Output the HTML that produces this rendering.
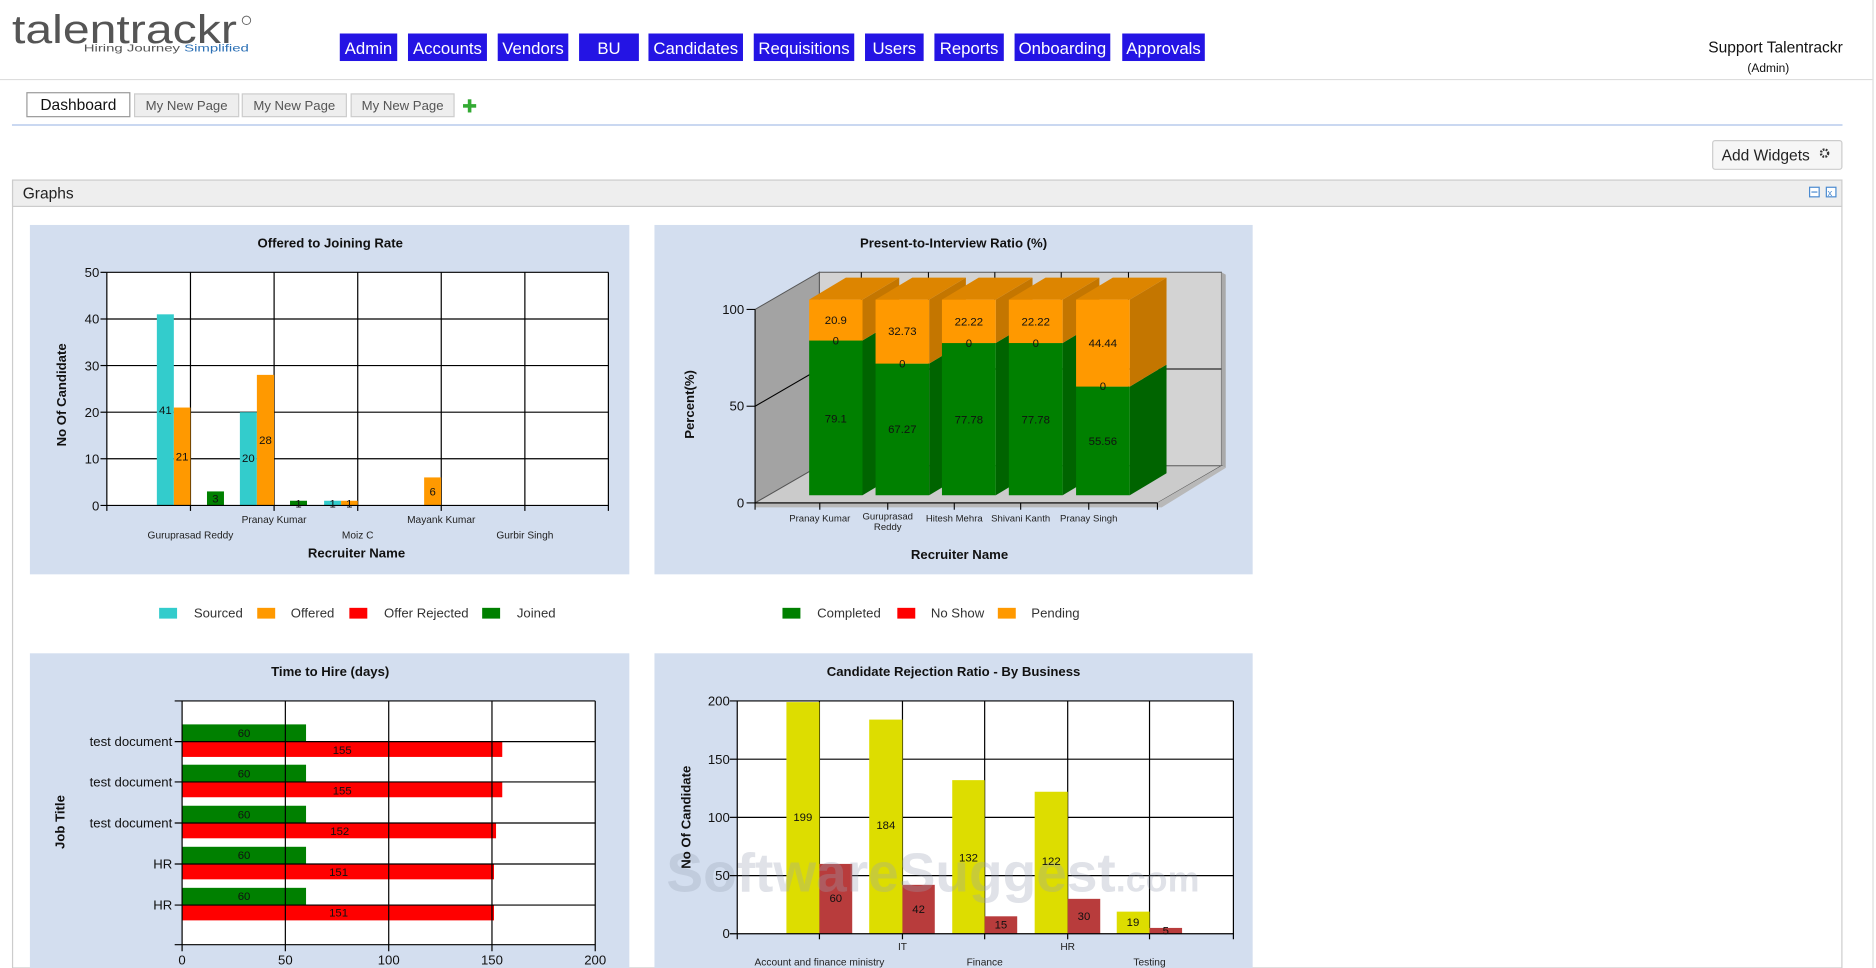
<!DOCTYPE html>
<html><head><meta charset="utf-8"><style>
html,body{margin:0;padding:0;background:#fff;overflow:hidden;width:1876px;height:968px}
svg{display:block}
text{font-family:"Liberation Sans",Arial,sans-serif}
</style></head><body>
<svg width="1876" height="968" viewBox="0 0 1568 809" preserveAspectRatio="none" xmlns="http://www.w3.org/2000/svg">
<rect width="1568" height="809" fill="#fff"/>
<!-- header -->
<text x="10" y="36" font-size="33" fill="#555" textLength="188" lengthAdjust="spacingAndGlyphs">talentrackr</text>
<circle cx="206" cy="17" r="3.5" fill="none" stroke="#666" stroke-width="0.8"/>
<text x="70" y="43" font-size="8.5" fill="#555" textLength="138" lengthAdjust="spacingAndGlyphs">Hiring Journey <tspan fill="#2a6fb5">Simplified</tspan></text>
<g font-size="14" fill="#fff" text-anchor="middle">
<rect x="284" y="28" width="48" height="23" fill="#2414e4"/><text x="308" y="45">Admin</text>
<rect x="341" y="28" width="66" height="23" fill="#2414e4"/><text x="374" y="45">Accounts</text>
<rect x="416" y="28" width="59" height="23" fill="#2414e4"/><text x="445.5" y="45">Vendors</text>
<rect x="484" y="28" width="50" height="23" fill="#2414e4"/><text x="509" y="45">BU</text>
<rect x="542" y="28" width="79" height="23" fill="#2414e4"/><text x="581.5" y="45">Candidates</text>
<rect x="630" y="28" width="84" height="23" fill="#2414e4"/><text x="672" y="45">Requisitions</text>
<rect x="723" y="28" width="49" height="23" fill="#2414e4"/><text x="747.5" y="45">Users</text>
<rect x="781" y="28" width="58" height="23" fill="#2414e4"/><text x="810" y="45">Reports</text>
<rect x="848" y="28" width="80" height="23" fill="#2414e4"/><text x="888" y="45">Onboarding</text>
<rect x="938" y="28" width="69" height="23" fill="#2414e4"/><text x="972.5" y="45">Approvals</text>
</g>
<text x="1484" y="44" font-size="13" fill="#111" text-anchor="middle">Support Talentrackr</text>
<text x="1478" y="60" font-size="10" fill="#111" text-anchor="middle">(Admin)</text>
<line x1="0" y1="66.5" x2="1565" y2="66.5" stroke="#ddd"/>
<line x1="1565.5" y1="0" x2="1565.5" y2="809" stroke="#ddd"/>
<!-- tabs -->
<rect x="22.5" y="77.5" width="86" height="20" fill="#fff" stroke="#999"/>
<text x="65.5" y="92" font-size="13" fill="#111" text-anchor="middle">Dashboard</text>
<g font-size="11" fill="#555" text-anchor="middle">
<rect x="112.5" y="78.5" width="87" height="19" fill="#eee" stroke="#ccc"/><text x="156" y="92">My New Page</text>
<rect x="202.5" y="78.5" width="87" height="19" fill="#eee" stroke="#ccc"/><text x="246" y="92">My New Page</text>
<rect x="293.5" y="78.5" width="86" height="19" fill="#eee" stroke="#ccc"/><text x="336.5" y="92">My New Page</text>
</g>
<rect x="391" y="83" width="3" height="11" fill="#3a3"/><rect x="387" y="87" width="11" height="3" fill="#3a3"/>
<line x1="10" y1="104.5" x2="1540" y2="104.5" stroke="#c2d3ef" stroke-width="1.5"/>
<rect x="1431.5" y="117.5" width="108" height="24" rx="2" fill="#f6f6f6" stroke="#ccc"/>
<text x="1439" y="134" font-size="13" fill="#222">Add Widgets</text>
<circle cx="1525" cy="128" r="3" fill="none" stroke="#333" stroke-width="2" stroke-dasharray="1.5 1"/>
<!-- graphs panel -->
<rect x="10.5" y="150.5" width="1529" height="658.5" fill="#fff" stroke="#ccc"/>
<rect x="10.5" y="150.5" width="1529" height="22" fill="#eee" stroke="#ccc"/>
<text x="19" y="166" font-size="13" fill="#222">Graphs</text>
<rect x="1512.5" y="156.5" width="8" height="8" fill="#fff" stroke="#4a8ad0"/><line x1="1514" y1="160.5" x2="1519" y2="160.5" stroke="#4a8ad0"/>
<rect x="1526.5" y="156.5" width="8" height="8" fill="#fff" stroke="#4a8ad0"/><text x="1527.5" y="164" font-size="8" fill="#4a8ad0">x</text>

<!-- CHART 1 -->
<rect x="25" y="188" width="501" height="292" fill="#d3deef"/>
<text x="276" y="207" font-size="11" font-weight="bold" text-anchor="middle" fill="#111">Offered to Joining Rate</text>
<rect x="89.3" y="227.6" width="419.2" height="194.8" fill="#fff"/>
<g stroke="#000" stroke-width="1">
<line x1="89.3" y1="227.6" x2="508.5" y2="227.6"/><line x1="89.3" y1="266.6" x2="508.5" y2="266.6"/><line x1="89.3" y1="305.5" x2="508.5" y2="305.5"/><line x1="89.3" y1="344.5" x2="508.5" y2="344.5"/><line x1="89.3" y1="383.4" x2="508.5" y2="383.4"/>
<line x1="159.2" y1="227.6" x2="159.2" y2="422.4"/><line x1="229.1" y1="227.6" x2="229.1" y2="422.4"/><line x1="299" y1="227.6" x2="299" y2="422.4"/><line x1="368.8" y1="227.6" x2="368.8" y2="422.4"/><line x1="438.7" y1="227.6" x2="438.7" y2="422.4"/>
<line x1="508.5" y1="227.6" x2="508.5" y2="427"/>
</g>
<g fill="#33cccc"><rect x="131.1" y="262.7" width="14.2" height="159.7"/><rect x="200.5" y="344.5" width="14.2" height="77.9"/><rect x="270.9" y="418.5" width="14.2" height="3.9"/></g>
<g fill="#ff9900"><rect x="145.3" y="340.6" width="13.9" height="81.8"/><rect x="214.7" y="313.3" width="14.4" height="109.1"/><rect x="285.1" y="418.5" width="13.9" height="3.9"/><rect x="354.5" y="399" width="14.2" height="23.4"/></g>
<g fill="#008000"><rect x="173" y="410.7" width="14.2" height="11.7"/><rect x="242.4" y="418.5" width="14.2" height="3.9"/></g>
<g stroke="#000"><line x1="84" y1="422.4" x2="508.5" y2="422.4"/><line x1="89.3" y1="227.6" x2="89.3" y2="427"/>
<line x1="84" y1="227.6" x2="89.3" y2="227.6"/><line x1="84" y1="266.6" x2="89.3" y2="266.6"/><line x1="84" y1="305.5" x2="89.3" y2="305.5"/><line x1="84" y1="344.5" x2="89.3" y2="344.5"/><line x1="84" y1="383.4" x2="89.3" y2="383.4"/>
<line x1="159.2" y1="422.4" x2="159.2" y2="427"/><line x1="229.1" y1="422.4" x2="229.1" y2="427"/><line x1="299" y1="422.4" x2="299" y2="427"/><line x1="368.8" y1="422.4" x2="368.8" y2="427"/><line x1="438.7" y1="422.4" x2="438.7" y2="427"/></g>
<g font-size="11" fill="#111" text-anchor="end"><text x="83" y="231.5">50</text><text x="83" y="270.5">40</text><text x="83" y="309.5">30</text><text x="83" y="348.5">20</text><text x="83" y="387.5">10</text><text x="83" y="426.5">0</text></g>
<g font-size="9.5" fill="#111" text-anchor="middle"><text x="138.2" y="346">41</text><text x="152.2" y="385">21</text><text x="180.1" y="420">3</text><text x="207.6" y="386">20</text><text x="221.9" y="371">28</text><text x="249.5" y="424">1</text><text x="278" y="424">1</text><text x="292" y="424">1</text><text x="361.6" y="414">6</text></g>
<g font-size="8.5" fill="#222" text-anchor="middle"><text x="159.2" y="450">Guruprasad Reddy</text><text x="229.1" y="437">Pranay Kumar</text><text x="299" y="450">Moiz C</text><text x="368.8" y="437">Mayank Kumar</text><text x="438.7" y="450">Gurbir Singh</text></g>
<text x="298" y="466" font-size="11" font-weight="bold" text-anchor="middle" fill="#111">Recruiter Name</text>
<text transform="translate(55,330) rotate(-90)" font-size="11" font-weight="bold" text-anchor="middle" fill="#111">No Of Candidate</text>
<g font-size="11" fill="#333">
<rect x="133" y="508" width="15" height="9" fill="#33cccc"/><text x="162" y="516">Sourced</text>
<rect x="215" y="508" width="15" height="9" fill="#ff9900"/><text x="243" y="516">Offered</text>
<rect x="292" y="508" width="15" height="9" fill="#ff0000"/><text x="321" y="516">Offer Rejected</text>
<rect x="403" y="508" width="15" height="9" fill="#008000"/><text x="432" y="516">Joined</text>
</g>

<!-- CHART 2 -->
<rect x="547" y="188" width="500" height="292" fill="#d3deef"/>
<text x="797" y="207" font-size="11" font-weight="bold" text-anchor="middle" fill="#111">Present-to-Interview Ratio (%)</text>
<polygon points="684.8,227.5 1020.9,227.5 1020.9,389.3 684.8,389.3" fill="#d3d3d3" stroke="#555" stroke-width="0.8"/>
<polygon points="1020.9,227.5 1024.5,229.5 1024.5,391 1020.9,389.3" fill="#aaa"/>
<polygon points="631.1,258.6 684.8,227.5 684.8,389.3 631.1,420.3" fill="#a3a3a3" stroke="#555" stroke-width="0.8"/>
<polygon points="631.1,420.3 684.8,389.3 1020.9,389.3 967.4,420.3" fill="#cbcbcb" stroke="#555" stroke-width="0.8"/>
<polygon points="631.1,420.3 967.4,420.3 1020.9,389.3 1024.5,391 971,424 631.1,424" fill="#b8b8b8"/>
<g stroke="#000" stroke-width="0.9">
<line x1="684.8" y1="308.4" x2="1020.9" y2="308.4"/><line x1="631.1" y1="339.5" x2="684.8" y2="308.4"/>
<line x1="719.9" y1="227.5" x2="719.9" y2="389.3"/><line x1="776" y1="227.5" x2="776" y2="389.3"/><line x1="831.5" y1="227.5" x2="831.5" y2="389.3"/><line x1="887" y1="227.5" x2="887" y2="389.3"/><line x1="943.2" y1="227.5" x2="943.2" y2="389.3"/>
<line x1="631.1" y1="420.3" x2="967.4" y2="420.3"/><line x1="631.1" y1="258.6" x2="631.1" y2="420.3"/>
<line x1="624" y1="258.6" x2="631.1" y2="258.6"/><line x1="624" y1="339.5" x2="631.1" y2="339.5"/><line x1="624" y1="420.3" x2="631.1" y2="420.3"/>
<line x1="631.1" y1="420.3" x2="631.1" y2="426"/><line x1="685.2" y1="420.3" x2="685.2" y2="426"/><line x1="742" y1="420.3" x2="742" y2="426"/><line x1="797.6" y1="420.3" x2="797.6" y2="426"/><line x1="853.1" y1="420.3" x2="853.1" y2="426"/><line x1="910" y1="420.3" x2="910" y2="426"/><line x1="967.4" y1="420.3" x2="967.4" y2="426"/>
</g>
<g>
<polygon points="720.9,284.6 751.6,266.2 751.6,395.5 720.9,413.9" fill="#006400"/>
<polygon points="720.9,250.4 751.6,232 751.6,266.2 720.9,284.6" fill="#c47600"/>
<polygon points="676.3,250.4 720.9,250.4 751.6,232 707,232" fill="#dd8500"/>
<rect x="676.3" y="284.6" width="44.6" height="129.3" fill="#008000"/>
<rect x="676.3" y="250.4" width="44.6" height="34.2" fill="#ff9900"/>
</g>
<g>
<polygon points="776.6,303.9 807.3,285.5 807.3,395.5 776.6,413.9" fill="#006400"/>
<polygon points="776.6,250.4 807.3,232 807.3,285.5 776.6,303.9" fill="#c47600"/>
<polygon points="731.8,250.4 776.6,250.4 807.3,232 762.5,232" fill="#dd8500"/>
<rect x="731.8" y="303.9" width="44.8" height="110" fill="#008000"/>
<rect x="731.8" y="250.4" width="44.8" height="53.5" fill="#ff9900"/>
</g>
<g>
<polygon points="832.3,286.7 863,268.3 863,395.5 832.3,413.9" fill="#006400"/>
<polygon points="832.3,250.4 863,232 863,268.3 832.3,286.7" fill="#c47600"/>
<polygon points="787.3,250.4 832.3,250.4 863,232 818,232" fill="#dd8500"/>
<rect x="787.3" y="286.7" width="45" height="127.2" fill="#008000"/>
<rect x="787.3" y="250.4" width="45" height="36.3" fill="#ff9900"/>
</g>
<g>
<polygon points="888.2,286.7 918.9,268.3 918.9,395.5 888.2,413.9" fill="#006400"/>
<polygon points="888.2,250.4 918.9,232 918.9,268.3 888.2,286.7" fill="#c47600"/>
<polygon points="843.2,250.4 888.2,250.4 918.9,232 873.9,232" fill="#dd8500"/>
<rect x="843.2" y="286.7" width="45" height="127.2" fill="#008000"/>
<rect x="843.2" y="250.4" width="45" height="36.3" fill="#ff9900"/>
</g>
<g>
<polygon points="944.3,323.1 975,304.7 975,395.5 944.3,413.9" fill="#006400"/>
<polygon points="944.3,250.4 975,232 975,304.7 944.3,323.1" fill="#c47600"/>
<polygon points="899.4,250.4 944.3,250.4 975,232 930.1,232" fill="#dd8500"/>
<rect x="899.4" y="323.1" width="44.9" height="90.8" fill="#008000"/>
<rect x="899.4" y="250.4" width="44.9" height="72.7" fill="#ff9900"/>
</g>
<g font-size="9.5" fill="#111" text-anchor="middle">
<text x="698.6" y="271">20.9</text><text x="698.6" y="288">0</text><text x="698.6" y="353">79.1</text>
<text x="754.2" y="280">32.73</text><text x="754.2" y="307">0</text><text x="754.2" y="362">67.27</text>
<text x="809.8" y="272">22.22</text><text x="809.8" y="290">0</text><text x="809.8" y="354">77.78</text>
<text x="865.7" y="272">22.22</text><text x="865.7" y="290">0</text><text x="865.7" y="354">77.78</text>
<text x="921.8" y="290">44.44</text><text x="921.8" y="326">0</text><text x="921.8" y="372">55.56</text>
</g>
<g font-size="11" fill="#111" text-anchor="end"><text x="622" y="262.5">100</text><text x="622" y="343">50</text><text x="622" y="424">0</text></g>
<g font-size="8" fill="#222" text-anchor="middle"><text x="685.2" y="436">Pranay Kumar</text><text x="742" y="434">Guruprasad</text><text x="742" y="443">Reddy</text><text x="797.6" y="436">Hitesh Mehra</text><text x="853.1" y="436">Shivani Kanth</text><text x="910" y="436">Pranay Singh</text></g>
<text x="802" y="467" font-size="11" font-weight="bold" text-anchor="middle" fill="#111">Recruiter Name</text>
<text transform="translate(580,338) rotate(-90)" font-size="11" font-weight="bold" text-anchor="middle" fill="#111">Percent(%)</text>
<g font-size="11" fill="#333">
<rect x="654" y="508" width="15" height="9" fill="#008000"/><text x="683" y="516">Completed</text>
<rect x="750" y="508" width="15" height="9" fill="#ff0000"/><text x="778" y="516">No Show</text>
<rect x="834" y="508" width="15" height="9" fill="#ff9900"/><text x="862" y="516">Pending</text>
</g>

<!-- CHART 3 -->
<rect x="25" y="546" width="501" height="263" fill="#d3deef"/>
<text x="276" y="565" font-size="11" font-weight="bold" text-anchor="middle" fill="#111">Time to Hire (days)</text>
<rect x="152.2" y="585.8" width="345.3" height="203.7" fill="#fff"/>
<g fill="#008000"><rect x="152.2" y="605.4" width="103.6" height="14.4"/><rect x="152.2" y="639.1" width="103.6" height="14.4"/><rect x="152.2" y="673.4" width="103.6" height="14.4"/><rect x="152.2" y="707.7" width="103.6" height="14.4"/><rect x="152.2" y="742" width="103.6" height="14.4"/></g>
<g fill="#ff0000"><rect x="152.2" y="619.8" width="267.6" height="12.8"/><rect x="152.2" y="653.5" width="267.6" height="12.8"/><rect x="152.2" y="687.8" width="262.4" height="12.8"/><rect x="152.2" y="722.1" width="260.7" height="12.8"/><rect x="152.2" y="756.4" width="260.7" height="12.8"/></g>
<g stroke="#000">
<line x1="146" y1="585.8" x2="497.5" y2="585.8"/><line x1="146" y1="619.8" x2="497.5" y2="619.8"/><line x1="146" y1="653.5" x2="497.5" y2="653.5"/><line x1="146" y1="687.8" x2="497.5" y2="687.8"/><line x1="146" y1="722.1" x2="497.5" y2="722.1"/><line x1="146" y1="756.4" x2="497.5" y2="756.4"/><line x1="146" y1="789.5" x2="497.5" y2="789.5"/>
<line x1="152.2" y1="585.8" x2="152.2" y2="795"/><line x1="238.5" y1="585.8" x2="238.5" y2="795"/><line x1="324.9" y1="585.8" x2="324.9" y2="795"/><line x1="411.2" y1="585.8" x2="411.2" y2="795"/><line x1="497.5" y1="585.8" x2="497.5" y2="795"/>
</g>
<g font-size="9.5" fill="#111" text-anchor="middle"><text x="204" y="616">60</text><text x="204" y="650">60</text><text x="204" y="684">60</text><text x="204" y="718">60</text><text x="204" y="752">60</text>
<text x="286" y="630">155</text><text x="286" y="664">155</text><text x="284" y="698">152</text><text x="283" y="732">151</text><text x="283" y="766">151</text></g>
<g font-size="11" fill="#111" text-anchor="end"><text x="144" y="623.5">test document</text><text x="144" y="657.5">test document</text><text x="144" y="691.5">test document</text><text x="144" y="726">HR</text><text x="144" y="760">HR</text></g>
<g font-size="11" fill="#111" text-anchor="middle"><text x="152.2" y="806">0</text><text x="238.5" y="806">50</text><text x="324.9" y="806">100</text><text x="411.2" y="806">150</text><text x="497.5" y="806">200</text></g>
<text transform="translate(54,687) rotate(-90)" font-size="11" font-weight="bold" text-anchor="middle" fill="#111">Job Title</text>

<!-- CHART 4 -->
<rect x="547" y="546" width="500" height="263" fill="#d3deef"/>
<text x="797" y="565" font-size="11" font-weight="bold" text-anchor="middle" fill="#111">Candidate Rejection Ratio - By Business</text>
<rect x="616.2" y="585.8" width="414.7" height="194.6" fill="#fff"/>
<g stroke="#000">
<line x1="616.2" y1="634.5" x2="1030.9" y2="634.5"/><line x1="616.2" y1="683.1" x2="1030.9" y2="683.1"/><line x1="616.2" y1="731.8" x2="1030.9" y2="731.8"/>
<line x1="684.9" y1="585.8" x2="684.9" y2="780.4"/><line x1="754.3" y1="585.8" x2="754.3" y2="780.4"/><line x1="823" y1="585.8" x2="823" y2="780.4"/><line x1="892.4" y1="585.8" x2="892.4" y2="780.4"/><line x1="960.8" y1="585.8" x2="960.8" y2="780.4"/>
</g>
<g fill="#dddd00"><rect x="657.3" y="586.8" width="27.6" height="193.6"/><rect x="726.5" y="601.4" width="27.8" height="179"/><rect x="795.9" y="652" width="27.1" height="128.4"/><rect x="864.8" y="661.7" width="27.6" height="118.7"/><rect x="933.4" y="761.9" width="27.4" height="18.5"/></g>
<g fill="#b83c3c"><rect x="684.9" y="722" width="27.4" height="58.4"/><rect x="754.3" y="739.5" width="27" height="40.9"/><rect x="823" y="765.8" width="27.2" height="14.6"/><rect x="892.4" y="751.2" width="27.2" height="29.2"/><rect x="960.8" y="775.5" width="27.2" height="4.9"/></g>
<text x="557" y="745" font-size="46" font-weight="bold" fill="#9aa3b5" opacity="0.3">SoftwareSuggest<tspan font-size="30">.com</tspan></text>
<g stroke="#000">
<line x1="610" y1="585.8" x2="1030.9" y2="585.8"/><line x1="610" y1="634.5" x2="616.2" y2="634.5"/><line x1="610" y1="683.1" x2="616.2" y2="683.1"/><line x1="610" y1="731.8" x2="616.2" y2="731.8"/>
<line x1="610" y1="780.4" x2="1030.9" y2="780.4"/><line x1="616.2" y1="585.8" x2="616.2" y2="785"/><line x1="1030.9" y1="585.8" x2="1030.9" y2="785"/>
<line x1="684.9" y1="780.4" x2="684.9" y2="785"/><line x1="754.3" y1="780.4" x2="754.3" y2="785"/><line x1="823" y1="780.4" x2="823" y2="785"/><line x1="892.4" y1="780.4" x2="892.4" y2="785"/><line x1="960.8" y1="780.4" x2="960.8" y2="785"/>
</g>
<g font-size="9.5" fill="#111" text-anchor="middle"><text x="671" y="686">199</text><text x="698.6" y="754">60</text><text x="740.4" y="693">184</text><text x="767.8" y="763">42</text><text x="809.5" y="720">132</text><text x="836.6" y="776">15</text><text x="878.6" y="723">122</text><text x="906" y="769">30</text><text x="947" y="774">19</text><text x="974.4" y="781">5</text></g>
<g font-size="11" fill="#111" text-anchor="end"><text x="610" y="589.5">200</text><text x="610" y="638.5">150</text><text x="610" y="687">100</text><text x="610" y="735.5">50</text><text x="610" y="784">0</text></g>
<g font-size="8.5" fill="#222" text-anchor="middle"><text x="754.3" y="794">IT</text><text x="892.4" y="794">HR</text><text x="684.9" y="807">Account and finance ministry</text><text x="823" y="807">Finance</text><text x="960.8" y="807">Testing</text></g>
<text transform="translate(577,683) rotate(-90)" font-size="11" font-weight="bold" text-anchor="middle" fill="#111">No Of Candidate</text>
</svg>
</body></html>
